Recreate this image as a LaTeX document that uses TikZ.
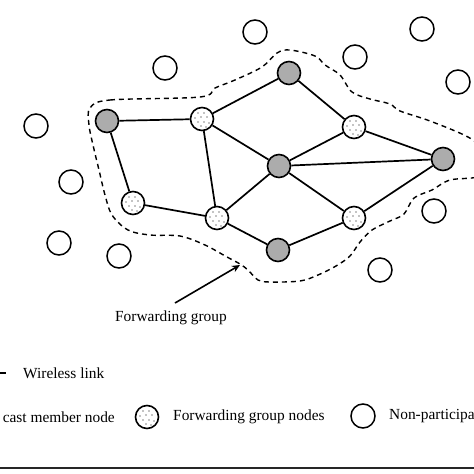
\documentclass[tikz,border=0pt]{standalone}
\usepackage{fontspec}
\setmainfont{Liberation Serif}
\usetikzlibrary{arrows.meta,calc}
\definecolor{membergray}{RGB}{172,172,172}
\tikzset{
  member/.style={circle, draw=black, line width=1.6pt, fill=membergray, minimum size=23pt, inner sep=0pt},
  fwd/.style={circle, draw=black, line width=1.6pt, fill=white, minimum size=23pt, inner sep=0pt},
  nonp/.style={circle, draw=black, line width=1.5pt, fill=white, minimum size=24pt, inner sep=0pt},
  link/.style={line width=1.7pt},
  boundary/.style={dash pattern=on 5pt off 4pt, line width=1.4pt},
  lbl/.style={font=\fontsize{15.4pt}{18pt}\selectfont, inner sep=0pt}
}
\newcommand{\fwddots}[1]{%
  \foreach \dx/\dy in {-4/-6,2/-6,-7/-1,-1/-2,5/-2,-4/3,2/3,7/4,-1/7,4/8}
    \fill ($(#1)+(\dx,\dy)$) circle (0.7pt);}
\begin{document}
\begin{tikzpicture}[x=1pt,y=-1pt]
\useasboundingbox (0,0) rectangle (474,474);
\fill[white] (0,0) rectangle (474,474);
% dashed forwarding group boundary
\draw[boundary] plot[smooth cycle, tension=0.55] coordinates {
 (90,108) (110,100) (200,97) (215,88) (235,80) (262,67) (277,53) (290,50)
 (315,56) (325,65) (340,75) (352,92) (370,99) (390,104) (400,111) (430,121)
 (468,137) (482,150) (482,175) (450,180) (432,190) (414,198) (404,214) (390,221)
 (372,230) (360,242) (350,256) (336,266) (318,275) (300,281) (270,282) (258,280)
 (248,270) (240,264) (227,257) (205,245) (180,236) (150,235) (128,230) (112,215)
 (105,195) (99,170) (93,145) (89,125)};
% member nodes
\node[member] (A) at (107,121) {};
\node[member] (B) at (289,73) {};
\node[member] (C) at (279,166) {};
\node[member] (D) at (443,159) {};
\node[member] (E) at (278,250) {};
% forwarding nodes
\node[fwd] (F1) at (202,119) {};
\node[fwd] (F2) at (354,127) {};
\node[fwd] (F3) at (133,203) {};
\node[fwd] (F4) at (217,218) {};
\node[fwd] (F5) at (354,218) {};
\fwddots{F1}\fwddots{F2}\fwddots{F3}\fwddots{F4}\fwddots{F5}
% non-participating nodes
\node[nonp] (N1) at (255,32) {};
\node[nonp] (N2) at (422,29) {};
\node[nonp] (N3) at (165,68) {};
\node[nonp] (N4) at (355,57) {};
\node[nonp] (N5) at (458,82) {};
\node[nonp] (N6) at (36,126) {};
\node[nonp] (N7) at (71,182) {};
\node[nonp] (N8) at (59,243) {};
\node[nonp] (N9) at (119,256) {};
\node[nonp] (N10) at (434,211) {};
\node[nonp] (N11) at (380,270) {};
% links
\draw[link] (A) -- (F1);
\draw[link] (A) -- (F3);
\draw[link] (F3) -- (F4);
\draw[link] (F1) -- (B);
\draw[link] (F1) -- (C);
\draw[link] (F1) -- (F4);
\draw[link] (B) -- (F2);
\draw[link] (F2) -- (C);
\draw[link] (F2) -- (D);
\draw[link] (C) -- (D);
\draw[link] (C) -- (F4);
\draw[link] (C) -- (F5);
\draw[link] (F4) -- (E);
\draw[link] (E) -- (F5);
\draw[link] (F5) -- (D);
% forwarding group label and arrow
\node[lbl] (FG) at (171,318) {Forwarding group};
\coordinate (AT) at (175,303);
\coordinate (AH) at (240,265);
\draw[line width=1.6pt, -{Stealth[length=8pt,width=7pt]}] (AT) -- (AH);
% legend
\coordinate (WL1) at (0,373);
\coordinate (WL2) at (6,373);
\draw[link] (WL1) -- (WL2);
\node[lbl, anchor=west] (WLt) at (23,373) {Wireless link};
\node[lbl, anchor=east] (MMt) at (115,417) {cast member node};
\node[fwd] (LF) at (147,417) {};
\fwddots{LF}
\node[lbl, anchor=west] (FGt) at (173,417) {Forwarding group nodes};
\node[nonp] (LN) at (363,416) {};
\node[lbl, anchor=west] (NPt) at (389,416) {Non-participa};
\coordinate (BL1) at (0,468);
\coordinate (BL2) at (474,468);
\draw[line width=2pt, black!85] (BL1) -- (BL2);
\end{tikzpicture}
\end{document}
